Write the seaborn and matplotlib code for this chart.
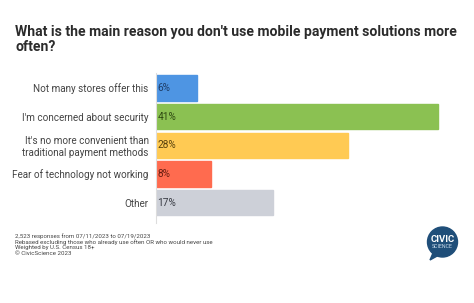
import matplotlib
matplotlib.use("Agg")
import matplotlib.pyplot as plt
import seaborn as sns
import pandas as pd
from matplotlib.patches import Circle, Polygon

categories = [
    "Not many stores offer this",
    "I'm concerned about security",
    "It's no more convenient than\ntraditional payment methods",
    "Fear of technology not working",
    "Other",
]
values = [6, 41, 28, 8, 17]
bar_colors = ["#4E95E3", "#8BC152", "#FFCA53", "#FF6B4F", "#CDD0D8"]
label_colors = ["#1E3C66", "#2F4A12", "#5A4410", "#6A1E12", "#3A3D45"]
title = "What is the main reason you don't use mobile payment solutions more\noften?"
footer = ("2,523 responses from 07/11/2023 to 07/19/2023\n"
          "Rebased excluding those who already use often OR who would never use\n"
          "Weighted by U.S. Census 18+\n"
          "\u00a9 CivicScience 2023")

df = pd.DataFrame({"category": categories, "value": values})

sns.set_theme(style="white")
plt.rcParams["font.family"] = ["Roboto", "DejaVu Sans"]

fig = plt.figure(figsize=(4.74, 3.03), dpi=100)
W, H = 474, 303
ax = fig.add_axes([155.5 / W, 1 - 223 / H, 305 / W, 150 / H])

sns.barplot(data=df, y="category", x="value", hue="category", palette=bar_colors,
            legend=False, width=0.88, ax=ax, saturation=1, edgecolor="none")
for p, c in zip(ax.patches, bar_colors):
    p.set_edgecolor(c)
ax.set_xlim(0, 44.3)
ax.set_ylim(4.71, -0.52)
ax.set_xlabel("")
ax.set_ylabel("")
ax.set_xticks([])
ax.tick_params(axis="y", length=0, pad=5, labelsize=7.1, labelcolor="#444444")
for s in ["top", "right", "bottom"]:
    ax.spines[s].set_visible(False)
ax.spines["left"].set_color("#DDDDDD")
ax.spines["left"].set_linewidth(0.8)
for lab in ax.get_yticklabels():
    lab.set_horizontalalignment("right")
    lab.set_multialignment("right")

for i, (v, c) in enumerate(zip(values, label_colors)):
    ax.text(0.25, i, f"{v}%", va="center", ha="left", fontsize=7.3, color=c)

fig.text(15 / W, 1 - 25 / H, title, fontsize=10.1, fontweight="bold",
         color="#2B2B2B", va="top", ha="left", linespacing=1.05)
fig.text(15 / W, 1 - 233 / H, footer, fontsize=4.45, color="#444444",
         va="top", ha="left", linespacing=1.1)

# logo
lax = fig.add_axes([421 / W, 1 - 263 / H, 40 / W, 40 / H])
lax.set_xlim(0, 40)
lax.set_ylim(0, 40)
lax.axis("off")
lax.add_patch(Polygon([[12, 10], [9, 3], [18, 8]], closed=True, color="#1F4E79"))
lax.add_patch(Circle((21.5, 21), 15, color="#1F4E79"))
lax.text(21.5, 23.5, "CIVIC", fontsize=6.8, color="white", ha="center", va="center", fontweight="bold")
lax.text(21.5, 16.5, "SCIENCE", fontsize=3.8, color="#CFE0F0", ha="center", va="center")

fig.savefig("out.png", dpi=100)
